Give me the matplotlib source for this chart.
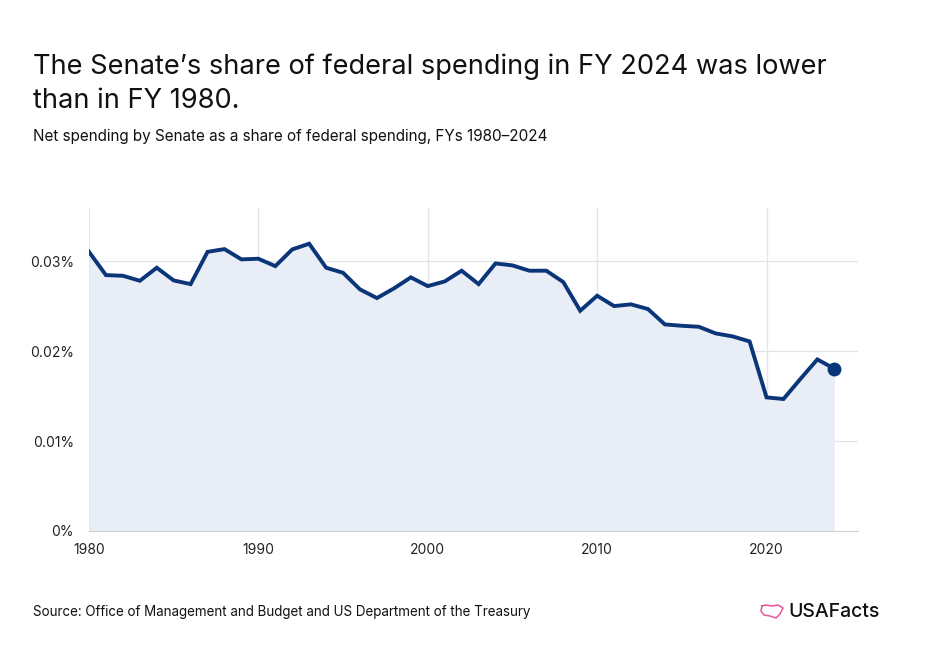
import matplotlib
matplotlib.use("Agg")
from matplotlib import pyplot as plt
from matplotlib.ticker import FuncFormatter

#---------------------- DATA
years = list(range(1980, 2025))
share = [0.03103, 0.02844, 0.02837, 0.02781, 0.02926, 0.02785, 0.02744, 0.03103,
         0.03133, 0.03019, 0.03026, 0.02944, 0.03130, 0.03193, 0.02926, 0.02870,
         0.02685, 0.02589, 0.02696, 0.02819, 0.02722, 0.02774, 0.02893, 0.02744,
         0.02974, 0.02952, 0.02893, 0.02893, 0.02767, 0.02448, 0.02615, 0.02500,
         0.02519, 0.02467, 0.02296, 0.02281, 0.02270, 0.02196, 0.02163, 0.02107,
         0.01485, 0.01467, 0.01690, 0.01907, 0.01804]
x_ticks = [1980, 1990, 2000, 2010, 2020]
y_ticks = [0, 0.01, 0.02, 0.03]

title = "The Senate\u2019s share of federal spending in FY 2024 was lower\nthan in FY 1980."
subtitle = "Net spending by Senate as a share of federal spending, FYs 1980\u20132024"
source = "Source: Office of Management and Budget and US Department of the Treasury"

LINE = "#0a3579"
FILL = "#e9edf5"
GRID = "#e3e3e6"

plt.rcParams['font.family'] = ['Inter', 'DejaVu Sans']

fig = plt.figure(figsize=(9.29, 6.61), dpi=100)
ax = fig.add_axes([89 / 929, 1 - 531 / 661, (858 - 89) / 929, (531 - 208) / 661])

ax.fill_between(years, share, 0, color=FILL, lw=0, zorder=1)
ax.plot(years, share, color=LINE, lw=2.8, solid_joinstyle='miter', zorder=3)
ax.plot(years[-1], share[-1], 'o', color=LINE, ms=9, zorder=4)

ax.set_xlim(1980, 2025.4)
ax.set_ylim(0, 0.0359)
ax.set_xticks(x_ticks)
ax.set_yticks(y_ticks)
ax.yaxis.set_major_formatter(FuncFormatter(lambda v, p: '0%' if v == 0 else f'{v:.2f}%'))
ax.grid(True, color=GRID, lw=0.9, zorder=0)
ax.set_axisbelow(True)
for s in ['top', 'right', 'left']:
    ax.spines[s].set_visible(False)
ax.spines['bottom'].set_color('#cfcfd4')
ax.tick_params(length=0, labelsize=10, colors='#222222', pad=9)
ax.tick_params(axis='y', pad=11)

fig.text(33 / 929, 1 - 53 / 661, title, fontsize=19.6, va='top', ha='left',
         color='#111111', linespacing=1.4)
fig.text(33 / 929, 1 - 137 / 661, subtitle, fontsize=11, va='center', ha='left',
         color='#111111')
fig.text(33 / 929, 1 - 612 / 661, source, fontsize=9.65, va='center', ha='left',
         color='#111111')

# logo: small pink outline plus wordmark
lx = [762, 766, 772, 778, 783, 780, 776, 770, 764, 761, 762]
ly = [606, 605, 606, 605, 608, 614, 618, 616, 615, 611, 606]
fig.add_artist(plt.Line2D([v / 929 for v in lx], [1 - v / 661 for v in ly],
                          color='#e8559a', lw=1.1))
fig.text(788 / 929, 1 - 612 / 661, "USAFacts", fontsize=14, va='center', ha='left',
         color='#111111', fontweight='medium')

fig.savefig('out.png', dpi=100, facecolor='white')
